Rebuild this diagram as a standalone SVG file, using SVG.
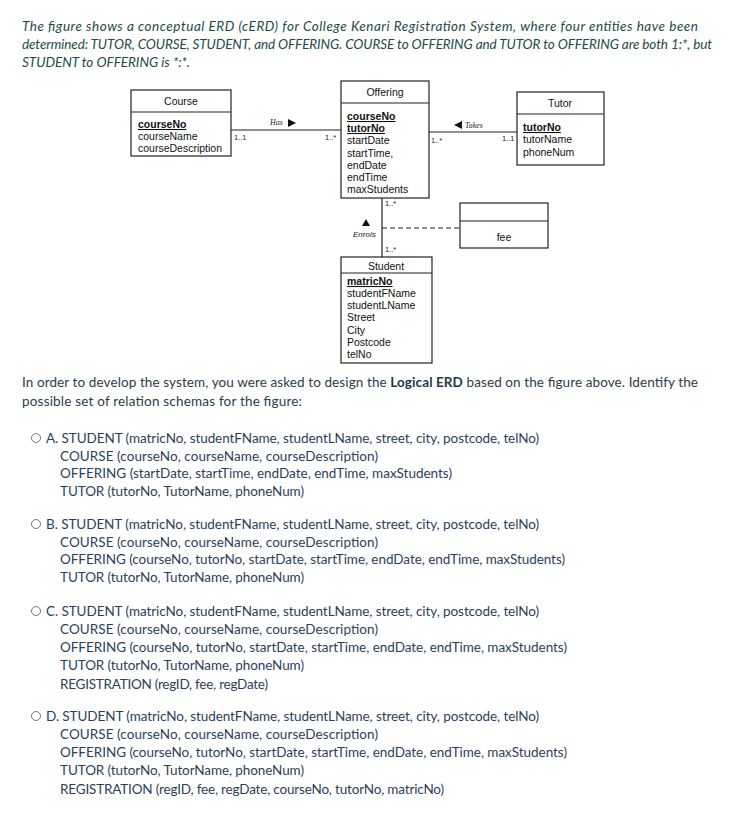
<svg xmlns="http://www.w3.org/2000/svg" width="730" height="825" viewBox="0 0 730 825">
<style>
.bg{fill:#ffffff}
.box{fill:#ffffff;stroke:#222;stroke-width:1.2}
.ln{stroke:#222;stroke-width:1.2;fill:none}
.dash{stroke:#222;stroke-width:1.2;fill:none;stroke-dasharray:5,3}
.t{font-family:"Liberation Sans",Arial,sans-serif;font-size:10.5px;fill:#111}
.tc{font-family:"Liberation Sans",Arial,sans-serif;font-size:10.5px;fill:#111;text-anchor:middle}
.pk{font-weight:bold;text-decoration:underline}
.m{font-family:"Liberation Sans",Arial,sans-serif;font-size:7.5px;fill:#222}
.rel{font-family:"Liberation Serif","Times New Roman",serif;font-style:italic;font-size:8px;fill:#222}
.enr{font-family:"Liberation Sans",Arial,sans-serif;font-style:italic;font-size:8px;fill:#222}
.intro{font-family:Lato,"Open Sans",sans-serif;font-style:italic;font-size:13.5px;fill:#1d4b48}
.para{font-family:Lato,"Open Sans",sans-serif;font-size:13.5px;fill:#28404a}
.opt{font-family:Lato,"Open Sans",sans-serif;font-size:13.5px;fill:#2c3f5a}
.rad{fill:#fff;stroke:#777;stroke-width:1}
</style>
<rect class="bg" x="0" y="0" width="730" height="825"/>

<g id="intro-text">
<text class="intro" x="22" y="31" textLength="676" lengthAdjust="spacing">The figure shows a conceptual ERD (cERD) for College Kenari Registration System, where four entities have been</text>
<text class="intro" x="22" y="49" textLength="690" lengthAdjust="spacing">determined: TUTOR, COURSE, STUDENT, and OFFERING. COURSE to OFFERING and TUTOR to OFFERING are both 1:*, but</text>
<text class="intro" x="22" y="67" textLength="168" lengthAdjust="spacing">STUDENT to OFFERING is *:*.</text>
</g>

<g id="connectors">
<line class="ln" x1="231" y1="130" x2="341" y2="130"/>
<line class="ln" x1="429" y1="132" x2="517" y2="132"/>
<line class="ln" x1="382" y1="198" x2="382" y2="257"/>
<line class="dash" x1="382" y1="228" x2="460" y2="228"/>
<text class="rel" x="270" y="125">Has</text>
<polygon points="288,119 296,123 288,127" fill="#111"/>
<polygon points="462,121 454,125 462,129" fill="#111"/>
<text class="rel" x="465" y="128">Takes</text>
<text class="m" x="234" y="140">1..1</text>
<text class="m" x="325" y="140">1..*</text>
<text class="m" x="431" y="143">1..*</text>
<text class="m" x="502" y="141">1..1</text>
<text class="m" x="385" y="206">1..*</text>
<text class="m" x="385" y="252">1..*</text>
<polygon points="366,219 370,226 362,226" fill="#111"/>
<text class="enr" x="353" y="237">Enrols</text>
</g>

<g id="course">
<rect class="box" x="131" y="90" width="100" height="66"/>
<line class="ln" x1="131" y1="112" x2="231" y2="112"/>
<text class="tc" x="181" y="105">Course</text>
<text class="t pk" x="138" y="128">courseNo</text>
<text class="t" x="138" y="140">courseName</text>
<text class="t" x="138" y="152">courseDescription</text>
</g>

<g id="offering">
<rect class="box" x="341" y="81" width="88" height="117"/>
<line class="ln" x1="341" y1="103" x2="429" y2="103"/>
<text class="tc" x="385" y="96">Offering</text>
<text class="t pk" x="347" y="120">courseNo</text>
<text class="t pk" x="347" y="132">tutorNo</text>
<text class="t" x="347" y="144">startDate</text>
<text class="t" x="347" y="157">startTime,</text>
<text class="t" x="347" y="169">endDate</text>
<text class="t" x="347" y="181">endTime</text>
<text class="t" x="347" y="193">maxStudents</text>
</g>

<g id="tutor">
<rect class="box" x="517" y="92" width="87" height="73"/>
<line class="ln" x1="517" y1="114" x2="604" y2="114"/>
<text class="tc" x="560" y="107">Tutor</text>
<text class="t pk" x="523" y="131">tutorNo</text>
<text class="t" x="523" y="143">tutorName</text>
<text class="t" x="523" y="156">phoneNum</text>
</g>

<g id="enrols-class">
<rect class="box" x="460" y="203" width="88" height="45"/>
<line class="ln" x1="460" y1="221" x2="548" y2="221"/>
<text class="tc" x="504" y="241">fee</text>
</g>

<g id="student">
<rect class="box" x="341" y="257" width="91" height="106"/>
<line class="ln" x1="341" y1="273" x2="432" y2="273"/>
<text class="tc" x="386" y="270">Student</text>
<text class="t pk" x="347" y="285">matricNo</text>
<text class="t" x="347" y="297">studentFName</text>
<text class="t" x="347" y="309">studentLName</text>
<text class="t" x="347" y="321">Street</text>
<text class="t" x="347" y="334">City</text>
<text class="t" x="347" y="346">Postcode</text>
<text class="t" x="347" y="358">telNo</text>
</g>

<g id="question">
<text class="para" x="22" y="387" textLength="676" lengthAdjust="spacing">In order to develop the system, you were asked to design the <tspan font-weight="bold" fill="#1d3a45">Logical ERD</tspan> based on the figure above. Identify the</text>
<text class="para" x="22" y="406" textLength="280" lengthAdjust="spacing">possible set of relation schemas for the figure:</text>
</g>

<g id="option-a">
<circle class="rad" cx="36" cy="438" r="4.5"/>
<text class="opt" x="46" y="443" textLength="493" lengthAdjust="spacing">A. STUDENT (matricNo, studentFName, studentLName, street, city, postcode, telNo)</text>
<text class="opt" x="60" y="461" textLength="318" lengthAdjust="spacing">COURSE (courseNo, courseName, courseDescription)</text>
<text class="opt" x="60" y="478" textLength="392" lengthAdjust="spacing">OFFERING (startDate, startTime, endDate, endTime, maxStudents)</text>
<text class="opt" x="60" y="496" textLength="244" lengthAdjust="spacing">TUTOR (tutorNo, TutorName, phoneNum)</text>
</g>

<g id="option-b">
<circle class="rad" cx="36" cy="524" r="4.5"/>
<text class="opt" x="46" y="529" textLength="493" lengthAdjust="spacing">B. STUDENT (matricNo, studentFName, studentLName, street, city, postcode, telNo)</text>
<text class="opt" x="60" y="547" textLength="318" lengthAdjust="spacing">COURSE (courseNo, courseName, courseDescription)</text>
<text class="opt" x="60" y="564" textLength="505" lengthAdjust="spacing">OFFERING (courseNo, tutorNo, startDate, startTime, endDate, endTime, maxStudents)</text>
<text class="opt" x="60" y="582" textLength="244" lengthAdjust="spacing">TUTOR (tutorNo, TutorName, phoneNum)</text>
</g>

<g id="option-c">
<circle class="rad" cx="36" cy="611" r="4.5"/>
<text class="opt" x="46" y="616" textLength="493" lengthAdjust="spacing">C. STUDENT (matricNo, studentFName, studentLName, street, city, postcode, telNo)</text>
<text class="opt" x="60" y="634" textLength="318" lengthAdjust="spacing">COURSE (courseNo, courseName, courseDescription)</text>
<text class="opt" x="60" y="652" textLength="507" lengthAdjust="spacing">OFFERING (courseNo, tutorNo, startDate, startTime, endDate, endTime, maxStudents)</text>
<text class="opt" x="60" y="670" textLength="244" lengthAdjust="spacing">TUTOR (tutorNo, TutorName, phoneNum)</text>
<text class="opt" x="60" y="689" textLength="208" lengthAdjust="spacing">REGISTRATION (regID, fee, regDate)</text>
</g>

<g id="option-d">
<circle class="rad" cx="36" cy="716" r="4.5"/>
<text class="opt" x="46" y="721" textLength="493" lengthAdjust="spacing">D. STUDENT (matricNo, studentFName, studentLName, street, city, postcode, telNo)</text>
<text class="opt" x="60" y="739" textLength="318" lengthAdjust="spacing">COURSE (courseNo, courseName, courseDescription)</text>
<text class="opt" x="60" y="757" textLength="507" lengthAdjust="spacing">OFFERING (courseNo, tutorNo, startDate, startTime, endDate, endTime, maxStudents)</text>
<text class="opt" x="60" y="775" textLength="244" lengthAdjust="spacing">TUTOR (tutorNo, TutorName, phoneNum)</text>
<text class="opt" x="60" y="794" textLength="384" lengthAdjust="spacing">REGISTRATION (regID, fee, regDate, courseNo, tutorNo, matricNo)</text>
</g>
</svg>
